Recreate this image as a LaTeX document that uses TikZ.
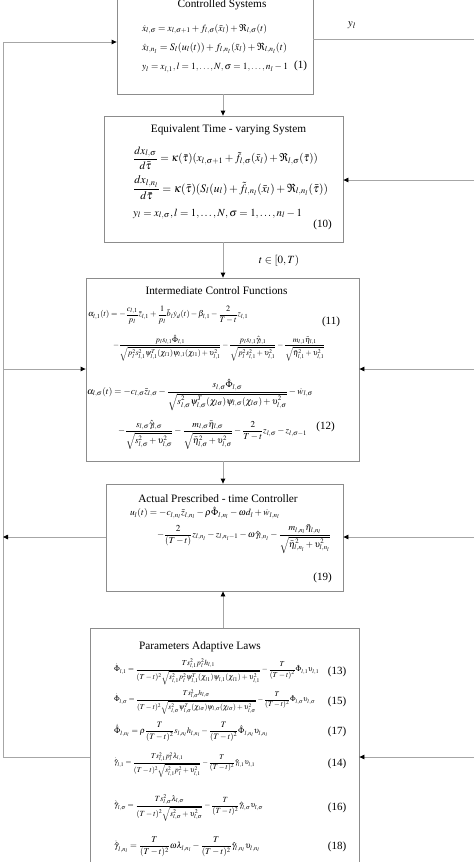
\documentclass[tikz,border=0pt]{standalone}
\usepackage{mathptmx}
\usepackage[no-math]{fontspec}
\setmainfont{Liberation Serif}
\usepackage{graphicx}
\usetikzlibrary{arrows.meta}
\tikzset{
  box/.style={draw=black!45, line width=0.8pt, rectangle, inner sep=0pt, fill=white},
  conn/.style={draw=black!35, line width=0.8pt},
  arr/.style={conn, -{Triangle[length=5pt,width=4.5pt,color=black]}},
  ttl/.style={font=\fontsize{11.3}{13}\selectfont, inner sep=0pt},
  eqn/.style={inner sep=0pt, outer sep=0pt, anchor=west},
  num/.style={font=\fontsize{11}{13}\selectfont, inner sep=0pt},
  lbl/.style={font=\fontsize{11}{13}\selectfont, inner sep=0pt}
}
\newcommand{\EQ}[2]{\resizebox{#1pt}{!}{$\displaystyle #2$}}
\begin{document}
\begin{tikzpicture}[x=1pt,y=-1pt]
\useasboundingbox (0,0) rectangle (474,862);
\clip (0,0) rectangle (474,862);
% boxes
\node[box, minimum width=196pt, minimum height=106pt] (b1) at (215,41) {};
\node[box, minimum width=239pt, minimum height=126pt] (b2) at (223.5,179) {};
\node[box, minimum width=273pt, minimum height=183pt] (b3) at (222.5,369.5) {};
\node[box, minimum width=237pt, minimum height=107pt] (b4) at (224.5,537.5) {};
\node[box, minimum width=269pt, minimum height=260pt] (b5) at (224.5,758) {};
% box 1
\node[ttl] (t1) at (222,5) {Controlled Systems};
\node[eqn] (e1a) at (142,29) {\EQ{125}{\dot{x}_{l,\sigma}=x_{l,\sigma+1}+f_{l,\sigma}(\bar{x}_l)+\Re_{l,\sigma}(t)}};
\node[eqn] (e1b) at (142,48) {\EQ{145}{\dot{x}_{l,n_l}=S_l(u_l(t))+f_{l,n_l}(\bar{x}_l)+\Re_{l,n_l}(t)}};
\node[eqn] (e1c) at (142,68) {\EQ{146}{y_l=x_{l,1},l=1,\ldots,N,\sigma=1,\ldots,n_l-1}};
\node[num] (n1) at (300.5,66) {(1)};
% box 2
\node[ttl] (t2) at (228.5,130) {Equivalent Time - varying System};
\node[eqn] (e2a) at (133,158) {\EQ{185}{\frac{dx_{l,\sigma}}{d\bar\tau}=\kappa(\bar\tau)(x_{l,\sigma+1}+\tilde f_{l,\sigma}(\bar x_l)+\Re_{l,\sigma}(\bar\tau))}};
\node[eqn] (e2b) at (133,188) {\EQ{195}{\frac{dx_{l,n_l}}{d\bar\tau}=\kappa(\bar\tau)(S_l(u_l)+\tilde f_{l,n_l}(\bar x_l)+\Re_{l,n_l}(\bar\tau))}};
\node[eqn] (e2c) at (133,214) {\EQ{169}{y_l=x_{l,\sigma},l=1,\ldots,N,\sigma=1,\ldots,n_l-1}};
\node[num] (n10) at (322.5,225) {(10)};
% t label
\node[lbl] (tl) at (279,261) {$t\in[0,T)$};
% box 3
\node[ttl] (t3) at (216.5,291) {Intermediate Control Functions};
\node[eqn] (e3a) at (88,315) {\EQ{160}{\alpha_{l,1}(t)=-\frac{c_{l,1}}{p_l}\bar z_{l,1}+\frac{1}{p_l}\bar b_l\dot y_d(t)-\beta_{l,1}-\frac{2}{T-t}z_{l,1}}};
\node[num] (n11) at (331,322) {(11)};
\node[eqn] (e3b) at (113,348) {\EQ{212}{-\frac{p_l s_{l,1}\hat\Phi_{l,1}}{\sqrt{p_l^2 s_{l,1}^2\psi_{l,1}^T(\chi_{l1})\psi_{l,1}(\chi_{l1})+\upsilon_{l,1}^2}}-\frac{p_l s_{l,1}\hat\gamma_{l,1}}{\sqrt{p_l^2 s_{l,1}^2+\upsilon_{l,1}^2}}-\frac{m_{l,1}\bar\eta_{l,1}}{\sqrt{\bar\eta_{l,1}^2+\upsilon_{l,1}^2}}}};
\node[eqn] (e3c) at (87,395) {\EQ{226}{\alpha_{l,\sigma}(t)=-c_{l,\sigma}\bar z_{l,\sigma}-\frac{s_{l,\sigma}\hat\Phi_{l,\sigma}}{\sqrt{s_{l,\sigma}^2\psi_{l,\sigma}^T(\chi_{l\sigma})\psi_{l,\sigma}(\chi_{l\sigma})+\upsilon_{l,\sigma}^2}}-\dot w_{l,\sigma}}};
\node[eqn] (e3d) at (118,435) {\EQ{189}{-\frac{s_{l,\sigma}\hat\gamma_{l,\sigma}}{\sqrt{s_{l,\sigma}^2+\upsilon_{l,\sigma}^2}}-\frac{m_{l,\sigma}\bar\eta_{l,\sigma}}{\sqrt{\bar\eta_{l,\sigma}^2+\upsilon_{l,\sigma}^2}}-\frac{2}{T-t}z_{l,\sigma}-z_{l,\sigma-1}}};
\node[num] (n12) at (325.5,427) {(12)};
% box 4
\node[ttl] (t4) at (218,499) {Actual Prescribed - time Controller};
\node[eqn] (e4a) at (130,513) {\EQ{150}{u_l(t)=-c_{l,n_l}\bar z_{l,n_l}-\rho\hat\Phi_{l,n_l}-\omega d_l+\dot w_{l,n_l}}};
\node[eqn] (e4b) at (157,539) {\EQ{174}{-\frac{2}{(T-t)}z_{l,n_l}-z_{l,n_l-1}-\omega\hat\gamma_{l,n_l}-\frac{m_{l,n_l}\bar\eta_{l,n_l}}{\sqrt{\bar\eta_{l,n_l}^2+\upsilon_{l,n_l}^2}}}};
\node[num] (n19) at (322.5,578) {(19)};
% box 5
\node[ttl] (t5) at (200,647) {Parameters Adaptive Laws};
\node[eqn] (e13) at (114,672) {\EQ{205}{\dot{\hat\Phi}_{l,1}=\frac{Ts_{l,1}^2p_l^2h_{l,1}}{(T-t)^2\sqrt{s_{l,1}^2p_l^2\psi_{l,1}^T(\chi_{l1})\psi_{l,1}(\chi_{l1})+\upsilon_{l,1}^2}}-\frac{T}{(T-t)^2}\hat\Phi_{l,1}\upsilon_{l,1}}};
\node[num] (n13) at (337,672) {(13)};
\node[eqn] (e15) at (114,702) {\EQ{201}{\dot{\hat\Phi}_{l,\sigma}=\frac{Ts_{l,\sigma}^2h_{l,\sigma}}{(T-t)^2\sqrt{s_{l,\sigma}^2\psi_{l,\sigma}^T(\chi_{l\sigma})\psi_{l,\sigma}(\chi_{l\sigma})+\upsilon_{l,\sigma}^2}}-\frac{T}{(T-t)^2}\hat\Phi_{l,\sigma}\upsilon_{l,\sigma}}};
\node[num] (n15) at (337,702) {(15)};
\node[eqn] (e17) at (114,732) {\EQ{154}{\dot{\hat\Phi}_{l,n_l}=\rho\frac{T}{(T-t)^2}s_{l,n_l}h_{l,n_l}-\frac{T}{(T-t)^2}\hat\Phi_{l,n_l}\upsilon_{l,n_l}}};
\node[num] (n17) at (337,732) {(17)};
\node[eqn] (e14) at (114,765) {\EQ{141}{\dot{\hat\gamma}_{l,1}=\frac{Ts_{l,1}^2p_l^2\lambda_{l,1}}{(T-t)^2\sqrt{s_{l,1}^2p_l^2+\upsilon_{l,1}^2}}-\frac{T}{(T-t)^2}\hat\gamma_{l,1}\upsilon_{l,1}}};
\node[num] (n14) at (337,764) {(14)};
\node[eqn] (e16) at (114,808) {\EQ{149}{\dot{\hat\gamma}_{l,\sigma}=\frac{Ts_{l,\sigma}^2\lambda_{l,\sigma}}{(T-t)^2\sqrt{s_{l,\sigma}^2+\upsilon_{l,\sigma}^2}}-\frac{T}{(T-t)^2}\hat\gamma_{l,\sigma}\upsilon_{l,\sigma}}};
\node[num] (n16) at (337,808) {(16)};
\node[eqn] (e18) at (114,847) {\EQ{146}{\dot{\hat\gamma}_{l,n_l}=\frac{T}{(T-t)^2}\omega\lambda_{l,n_l}-\frac{T}{(T-t)^2}\hat\gamma_{l,n_l}\upsilon_{l,n_l}}};
\node[num] (n18) at (337,847) {(18)};
% coordinates
\coordinate (cx) at (223,0);
\coordinate (r1) at (474,39);
\coordinate (r2) at (474,180);
\coordinate (r3) at (474,369);
\coordinate (r4) at (474,537);
\coordinate (r5) at (474,757);
\coordinate (l1) at (3,42);
\coordinate (l3) at (3,369);
\coordinate (l4) at (3,537);
\coordinate (l5) at (3,757);
% vertical connectors
\draw[arr] (b1.south -| cx) -- (b2.north -| cx);
\draw[arr] (b2.south -| cx) -- (b3.north -| cx);
\draw[arr] (b3.south -| cx) -- (b4.north -| cx);
\draw[arr] (b5.north -| cx) -- (b4.south -| cx);
% right side
\draw[conn] (r1 -| b1.east) -- (r1);
\node[lbl] (yl) at (352,25) {$y_l$};
\draw[arr] (r2) -- (r2 -| b2.east);
\draw[arr] (r3) -- (r3 -| b3.east);
\draw[arr] (r4) -- (r4 -| b4.east);
\draw[arr] (r5) -- (r5 -| b5.east);
% left side
\draw[arr] (l5 -| b5.west) -- (l5) -- (l1) -- (l1 -| b1.west);
\draw[arr] (l3) -- (l3 -| b3.west);
\draw[arr] (l4 -| b4.west) -- (l4);
\end{tikzpicture}
\end{document}
